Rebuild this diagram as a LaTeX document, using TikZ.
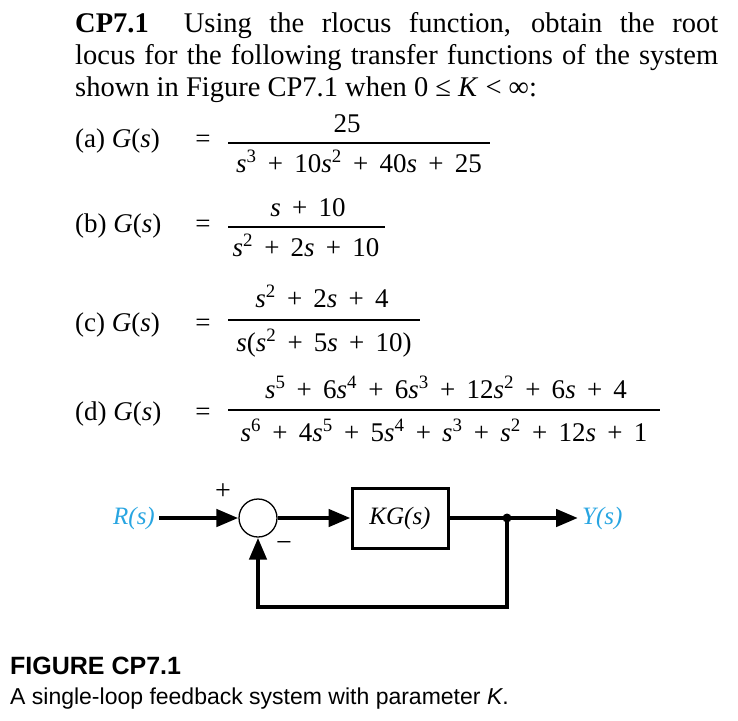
\documentclass[tikz,border=0pt]{standalone}
\usepackage{fontspec}
\usetikzlibrary{arrows.meta}
\setmainfont{Liberation Serif}
\newfontfamily\capsans{Liberation Sans}
\definecolor{sigblue}{RGB}{40,165,225}
\newcommand{\pl}{\ \,+\ \,}
\begin{document}
\begin{tikzpicture}[x=1pt,y=-1pt,
  eq/.style={inner sep=0pt,font=\fontsize{27}{30}\selectfont,anchor=base},
  frac/.style={line width=1.3pt},
  sig/.style={line width=4.5pt},
  arr/.style={-{Triangle[length=22pt,width=17pt]},line width=4.5pt},
  lab/.style={inner sep=0pt,font=\fontsize{25}{28}\selectfont\itshape,text=sigblue}]
\useasboundingbox (0,0) rectangle (738,720);
\node[inner sep=0pt,anchor=north west] (intro) at (75,12) {\parbox{643pt}{\fontsize{28.5}{32}\selectfont\textbf{CP7.1}\ \ Using the rlocus function, obtain the root\linebreak locus for the following transfer functions of the system\linebreak shown in Figure CP7.1 when 0 ≤ \textit{K} < ∞:}};
% (a)
\node[eq,anchor=base west] (la) at (75,147) {(a)\ \textit{G}(\textit{s})};
\node[eq] (ea) at (203,147) {=};
\node[eq] (na) at (347,132) {25};
\node[eq] (da) at (359,172) {\textit{s}\textsuperscript{3}\pl10\textit{s}\textsuperscript{2}\pl40\textit{s}\pl25};
\draw[frac] (228,143) -- (490,143);
% (b)
\node[eq,anchor=base west] (lb) at (75,232) {(b)\ \textit{G}(\textit{s})};
\node[eq] (eb) at (203,232) {=};
\node[eq] (nb) at (308,216) {\textit{s}\pl10};
\node[eq] (db) at (306,256) {\textit{s}\textsuperscript{2}\pl2\textit{s}\pl10};
\draw[frac] (228,227) -- (385,227);
% (c)
\node[eq,anchor=base west] (lc) at (75,331) {(c)\ \textit{G}(\textit{s})};
\node[eq] (ec) at (203,331) {=};
\node[eq] (nc) at (322,307) {\textit{s}\textsuperscript{2}\pl2\textit{s}\pl4};
\node[eq] (dc) at (324,351) {\textit{s}(\textit{s}\textsuperscript{2}\pl5\textit{s}\pl10)};
\draw[frac] (228,320) -- (420,320);
% (d)
\node[eq,anchor=base west] (ld) at (75,420) {(d)\ \textit{G}(\textit{s})};
\node[eq] (ed) at (203,420) {=};
\node[eq] (nd) at (446,398) {\textit{s}\textsuperscript{5}\pl6\textit{s}\textsuperscript{4}\pl6\textit{s}\textsuperscript{3}\pl12\textit{s}\textsuperscript{2}\pl6\textit{s}\pl4};
\node[eq] (dd) at (444,441) {\textit{s}\textsuperscript{6}\pl4\textit{s}\textsuperscript{5}\pl5\textit{s}\textsuperscript{4}\pl\textit{s}\textsuperscript{3}\pl\textit{s}\textsuperscript{2}\pl12\textit{s}\pl1};
\draw[frac] (228,410) -- (660,410);
% block diagram
\node[lab,anchor=east] (R) at (155,518) {R(s)};
\node[draw,circle,minimum size=38pt,inner sep=0pt,line width=1.3pt] (sum) at (258,518) {};
\node[draw,line width=3pt,minimum width=96pt,minimum height=60pt,inner sep=0pt,font=\fontsize{25}{28}\selectfont\itshape] (G) at (400,518) {KG(s)};
\node[lab,anchor=west] (Y) at (582,518) {Y(s)};
\coordinate (br) at (507,518);
\coordinate (fb1) at (507,607);
\coordinate (fb2) at (258,607);
\draw[arr] ([xshift=4pt]R.east) -- (sum);
\draw[arr] (sum) -- (G);
\draw[sig] (G) -- (br);
\draw[arr] (br) -- ([xshift=-4pt]Y.west);
\fill (br) circle (4.5pt);
\draw[arr] (br) -- (fb1) -- (fb2) -- (sum.south);
\node[inner sep=0pt,font=\fontsize{28}{30}\selectfont] (plus) at (223,492) {+};
\node[inner sep=0pt,font=\fontsize{28}{30}\selectfont] (minus) at (284,546) {−};
% caption
\node[inner sep=0pt,anchor=base west,font=\capsans\bfseries\fontsize{25}{28}\selectfont] (fig) at (10,674) {FIGURE CP7.1};
\node[inner sep=0pt,anchor=base west,font=\capsans\fontsize{23}{26}\selectfont] (cap) at (10,704) {A single-loop feedback system with parameter \textit{K}.};
\end{tikzpicture}
\end{document}
